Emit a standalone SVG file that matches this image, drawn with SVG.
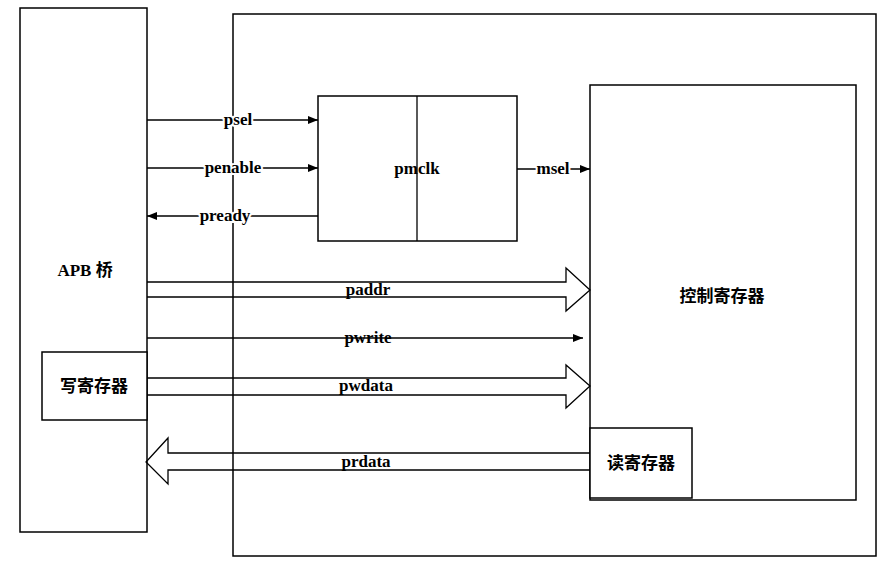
<svg xmlns="http://www.w3.org/2000/svg" width="892" height="569" viewBox="0 0 892 569">
<defs>
<marker id="ah" markerWidth="10" markerHeight="8" refX="10" refY="4" orient="auto" markerUnits="userSpaceOnUse"><path d="M0,0 L10,4 L0,8 z" fill="#000"/></marker>
</defs>
<style>
.b{fill:#fff;stroke:#000;stroke-width:1.5}
.l{stroke:#000;stroke-width:1.3;fill:none}
.t{font-family:"Liberation Serif","Noto Sans CJK SC",serif;font-weight:bold;font-size:17px;fill:#000;text-anchor:middle}
.c{font-family:"Noto Sans CJK SC",sans-serif;font-weight:bold;font-size:17px;fill:#000;text-anchor:middle}
</style>
<rect width="892" height="569" fill="#fff"/>
<g id="outer"><rect class="b" x="233" y="14" width="643" height="542"/></g>
<g id="apb"><rect class="b" x="20" y="8" width="127" height="524"/><text class="t" x="85" y="276">APB 桥</text></g>
<g id="wreg"><rect class="b" x="42" y="352" width="105" height="68"/><text class="c" x="94" y="392">写寄存器</text></g>
<g id="pmclk"><rect class="b" x="318" y="96" width="199" height="145"/><line class="l" x1="417" y1="96" x2="417" y2="241"/></g>
<g id="ctrl"><rect class="b" x="590" y="85" width="266" height="415"/><text class="c" x="722" y="302">控制寄存器</text></g>
<g id="rreg"><rect class="b" x="590" y="428" width="102" height="70"/><text class="c" x="641" y="469">读寄存器</text></g>
<g id="connectors">
<line class="l" x1="147" y1="120" x2="318" y2="120" marker-end="url(#ah)"/>
<line class="l" x1="147" y1="168" x2="318" y2="168" marker-end="url(#ah)"/>
<line class="l" x1="318" y1="216" x2="147" y2="216" marker-end="url(#ah)"/>
<line class="l" x1="517" y1="169" x2="590" y2="169" marker-end="url(#ah)"/>
<line class="l" x1="147" y1="338" x2="583" y2="338" marker-end="url(#ah)"/>
<path class="l" d="M147,282 H566 V268 L590,290 L566,311 V297 H147"/>
<path class="l" d="M147,378 H566 V365 L590,386 L566,408 V395 H147"/>
<path class="l" d="M590,453 H168 V438 L146,462 L168,484 V470 H590"/>
</g>
<g id="labels" style="paint-order:stroke">
<text class="t" x="238" y="125" stroke="#fff" stroke-width="4">psel</text>
<text class="t" x="233" y="173" stroke="#fff" stroke-width="4">penable</text>
<text class="t" x="225" y="221" stroke="#fff" stroke-width="4">pready</text>
<text class="t" x="417" y="174">pmclk</text>
<text class="t" x="553" y="174" stroke="#fff" stroke-width="4">msel</text>
<text class="t" x="368" y="295">paddr</text>
<text class="t" x="368" y="343">pwrite</text>
<text class="t" x="366" y="391">pwdata</text>
<text class="t" x="366" y="467">prdata</text>
</g>
</svg>
